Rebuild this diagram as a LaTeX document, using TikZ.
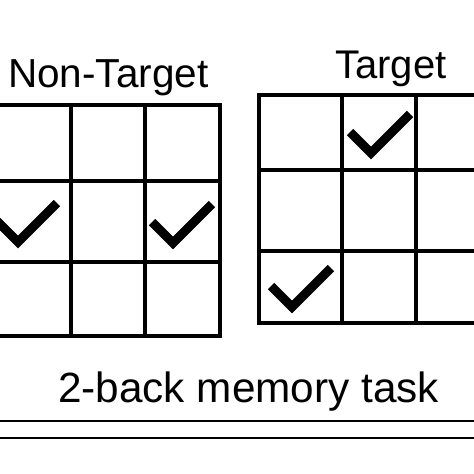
\documentclass[tikz,border=0pt]{standalone}
\usepackage{fontspec}
\setmainfont{Liberation Sans}
\begin{document}
\begin{tikzpicture}[x=1pt,y=-1pt,
  gridline/.style={line width=4pt, line cap=rect},
  tick/.style={line width=9pt, line join=miter},
  rulerline/.style={line width=2.5pt},
  lbl/.style={anchor=base west, inner sep=0pt},
  tickmark/.pic={\draw[tick] (-21,-21) -- (0,0) -- (39,-39);}]
\useasboundingbox (0,0) rectangle (474,474);
\begin{scope}
\clip (0,0) rectangle (474,474);
% left grid (Non-Target)
\foreach \x in {-4,71,145,220} \draw[gridline] (\x,105) -- (\x,336);
\foreach \y in {105,181,262,336} \draw[gridline] (-4,\y) -- (220,\y);
% right grid (Target)
\foreach \x in {259,342,416,491} \draw[gridline] (\x,95) -- (\x,323);
\foreach \y in {95,170,251,323} \draw[gridline] (259,\y) -- (491,\y);
% checks
\pic at (18,242) {tickmark};
\pic at (173,243) {tickmark};
\pic at (371,153) {tickmark};
\pic at (292,307) {tickmark};
% rules
\draw[rulerline] (0,421) -- (474,421);
\draw[rulerline] (0,438) -- (474,438);
\end{scope}
\node[lbl] (nt) at (8,87) {\fontsize{40.5}{44}\selectfont Non-Target};
\node[lbl] (t) at (335,78) {\fontsize{40}{44}\selectfont Target};
\node[lbl] (task) at (58,402) {\fontsize{42.3}{46}\selectfont 2-back memory task};
\end{tikzpicture}
\end{document}
